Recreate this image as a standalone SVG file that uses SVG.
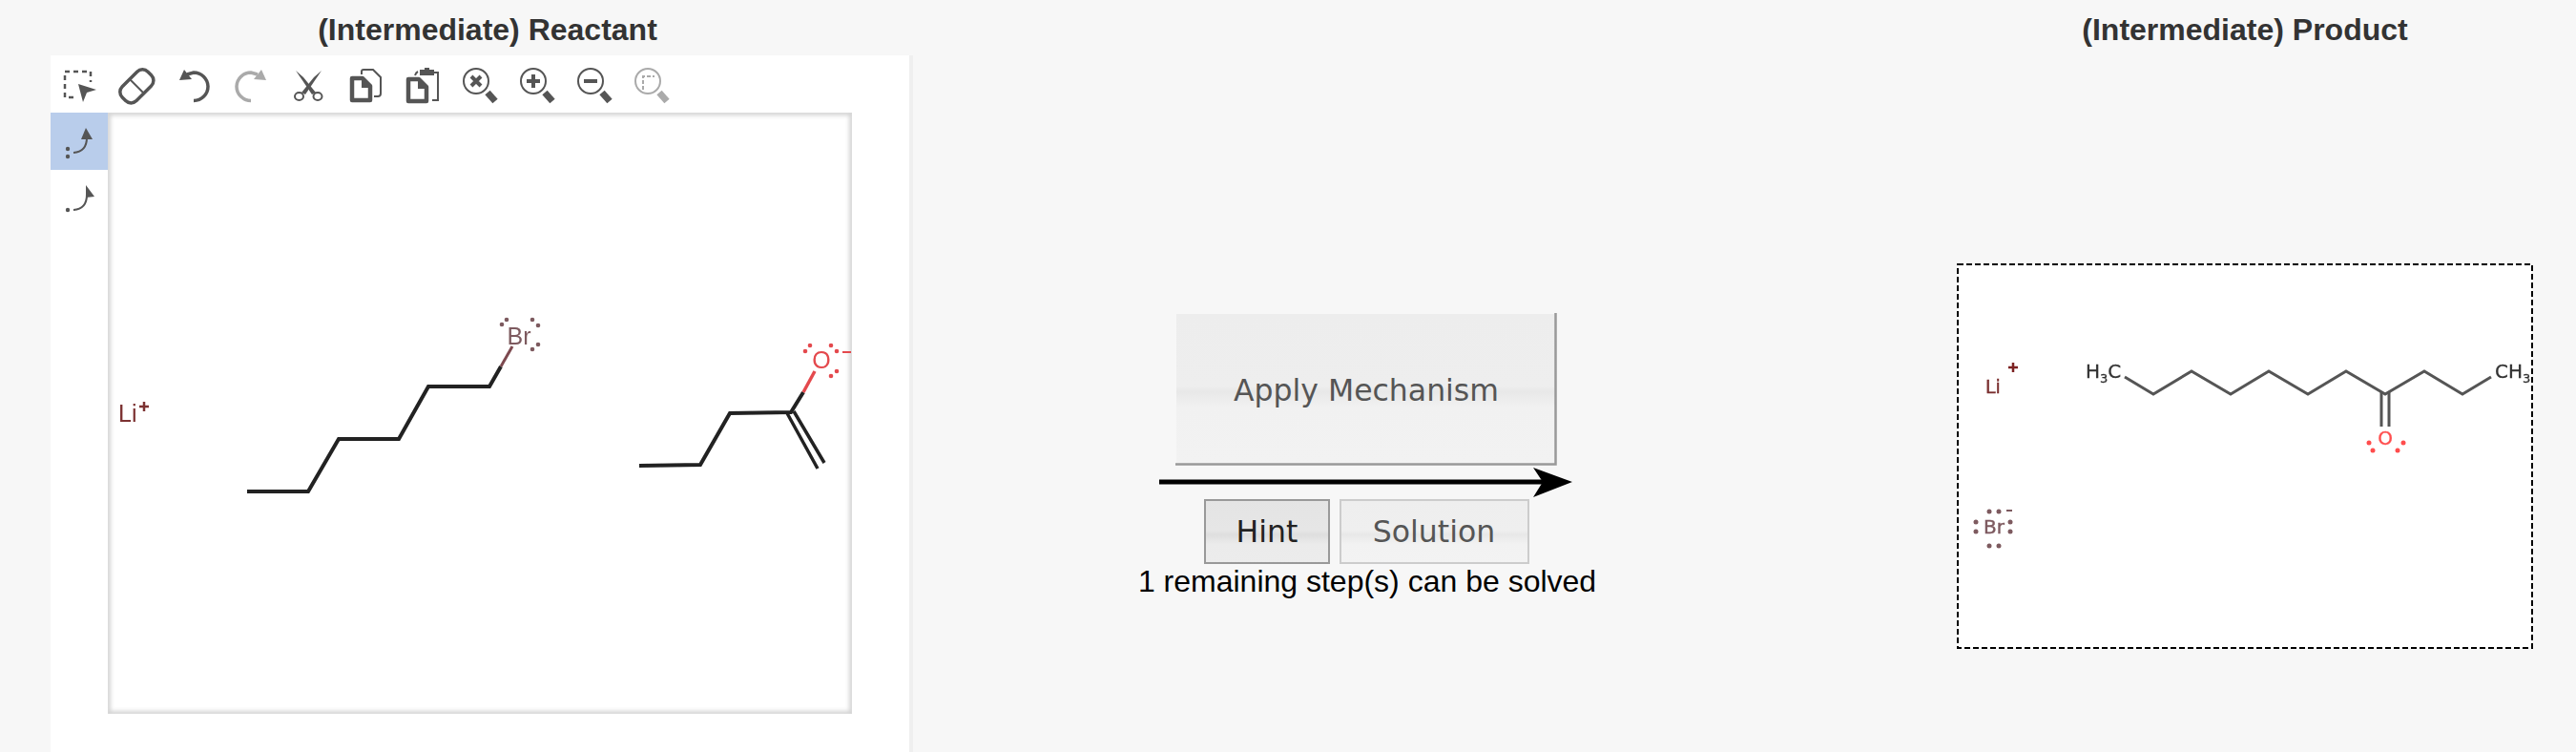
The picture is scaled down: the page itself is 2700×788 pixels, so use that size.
<svg xmlns="http://www.w3.org/2000/svg" width="2700" height="788" viewBox="0 0 2700 788">
<style>
.sans{font-family:"Liberation Sans",Arial,sans-serif}
.dj{font-family:"DejaVu Sans",Verdana,sans-serif}
.title{font-size:32px;font-weight:bold;fill:#333;text-anchor:middle}
.btn{font-size:31.5px;text-anchor:middle;fill:#555}
.bond{fill:none;stroke:#222;stroke-width:4;stroke-linejoin:miter}
.pbond{fill:none;stroke:#555;stroke-width:3}
.ic{fill:none;stroke:#555;stroke-width:3.5}
.icf{fill:#555;stroke:none}
.gr{fill:none;stroke:#aaa;stroke-width:3.5}
.grf{fill:#aaa;stroke:none}
.br{fill:#7d5a5f}
.o{fill:#e4494d}
.po{fill:#ff4d4d}
.li{fill:#7b3030}
.ptx{fill:#333;font-size:20px}
</style>
<defs>
<filter id="soft" filterUnits="userSpaceOnUse" x="0" y="0" width="2700" height="788"><feGaussianBlur stdDeviation="0.5"/></filter>
<filter id="sh" filterUnits="userSpaceOnUse" x="0" y="0" width="2700" height="788"><feGaussianBlur stdDeviation="2.200"/></filter>
<clipPath id="canvasClip"><rect x="113" y="118" width="780" height="630"/></clipPath>
<linearGradient id="g1" x1="0" y1="0" x2="0" y2="1">
<stop offset="0" stop-color="#ededed"/><stop offset=".48" stop-color="#eeeeee"/><stop offset=".52" stop-color="#e8e8e8"/><stop offset=".62" stop-color="#f1f1f1"/><stop offset="1" stop-color="#f2f2f2"/>
</linearGradient>
<linearGradient id="g2" x1="0" y1="0" x2="0" y2="1">
<stop offset="0" stop-color="#e4e4e4"/><stop offset=".48" stop-color="#e6e6e6"/><stop offset=".55" stop-color="#dedede"/><stop offset=".7" stop-color="#ebebeb"/><stop offset="1" stop-color="#ececec"/>
</linearGradient>
<linearGradient id="g3" x1="0" y1="0" x2="0" y2="1">
<stop offset="0" stop-color="#eeeeee"/><stop offset=".48" stop-color="#efefef"/><stop offset=".55" stop-color="#e8e8e8"/><stop offset=".7" stop-color="#f2f2f2"/><stop offset="1" stop-color="#f3f3f3"/>
</linearGradient>
</defs>
<rect width="2700" height="788" fill="#f7f7f7"/>
<g id="title-reactant"><text class="sans title" x="511" y="42">(Intermediate) Reactant</text></g>
<g id="title-product"><text class="sans title" x="2353" y="42">(Intermediate) Product</text></g>

<g id="editor-panel">
<rect x="953" y="58" width="4" height="730" fill="#efefef"/>
<rect x="53" y="58" width="900" height="730" fill="#fff"/>
<g clip-path="url(#canvasClip)"><rect x="113" y="118" width="780" height="630" fill="none" stroke="#d4d4d4" stroke-width="6" filter="url(#sh)"/></g>
<rect x="53" y="118" width="60" height="60" fill="#b9cdeb"/>
</g>

<g id="toolbar" filter="url(#soft)">
<g id="tool-select"><rect x="68" y="75" width="27" height="27" fill="none" stroke="#555" stroke-width="2.500" stroke-dasharray="5 4"/><rect x="80" y="86" width="23" height="23" fill="#fff"/><polygon class="icf" points="82,88 101,94 91,97 87,107"/></g>
<g id="tool-erase"><rect x="124" y="80" width="38" height="21" rx="8" transform="rotate(-45 143 90)" class="ic"/><line x1="136" y1="83" x2="150" y2="97" stroke="#555" stroke-width="2"/></g>
<g id="tool-undo"><path class="ic" d="M203 105.500A15 15 0 0 0 218 90.500A15 15 0 0 0 203 76L196 78"/><polygon class="icf" points="188,84 193,73 201,83"/></g>
<g id="tool-redo"><path class="gr" d="M263 105.500A15 15 0 0 1 248 90.500A15 15 0 0 1 263 76L270 78"/><polygon class="grf" points="279,84 274,73 266,83"/></g>
<g id="tool-cut"><polygon class="icf" points="310,74 318,81 331,97 327,99"/><polygon class="icf" points="337,74 329,81 316,97 320,99"/><ellipse cx="313.500" cy="101" rx="4.500" ry="4" fill="none" stroke="#555" stroke-width="2"/><ellipse cx="333" cy="101" rx="4.500" ry="4" fill="none" stroke="#555" stroke-width="2"/></g>
<g id="tool-copy"><path fill="none" stroke="#555" stroke-width="2" d="M379 78V75Q379 73 381 73H391L399 81V98Q399 101 396 101H392"/><path fill="#fff" stroke="#555" stroke-width="4.500" stroke-linejoin="round" d="M369 82H380L388 90V105H369Z"/><path fill="#555" d="M379 82V92H388Z"/></g>
<g id="tool-paste"><path fill="none" stroke="#555" stroke-width="2" d="M453 76H459V105H453"/><path fill="none" stroke="#555" stroke-width="2" d="M435 79Q436 76 438 75"/><rect class="icf" x="440" y="73" width="15" height="6"/><rect class="icf" x="445" y="71" width="5" height="3"/><path fill="#fff" stroke="#555" stroke-width="4.500" stroke-linejoin="round" d="M428 83H439L447 91V106H428Z"/><path fill="#555" d="M438 83V93H447Z"/></g>
<g id="tool-zoom-clear"><circle class="ic" style="stroke-width:2" cx="499" cy="85" r="13"/><path d="M494 80L504 90M504 80L494 90" stroke="#555" stroke-width="4" fill="none"/><line x1="511" y1="97" x2="519" y2="106" stroke="#555" stroke-width="7"/></g>
<g id="tool-zoom-in"><circle class="ic" style="stroke-width:2" cx="559" cy="85" r="13"/><path d="M559 78V92M552 85H566" stroke="#555" stroke-width="4" fill="none"/><line x1="571" y1="97" x2="579" y2="106" stroke="#555" stroke-width="7"/></g>
<g id="tool-zoom-out"><circle class="ic" style="stroke-width:2" cx="619" cy="85" r="13"/><path d="M612 85H626" stroke="#555" stroke-width="4" fill="none"/><line x1="631" y1="97" x2="639" y2="106" stroke="#555" stroke-width="7"/></g>
<g id="tool-zoom-fit"><circle class="gr" style="stroke-width:2" cx="679" cy="85" r="13"/><path d="M674 94V80H686" fill="none" stroke="#aaa" stroke-width="2" stroke-dasharray="4 2"/><line x1="691" y1="97" x2="699" y2="106" stroke="#aaa" stroke-width="7"/></g>
<g id="tool-arrow-pair"><circle class="icf" cx="71" cy="156" r="2.200"/><circle class="icf" cx="71" cy="164" r="2.200"/><path fill="none" stroke="#555" stroke-width="2" d="M77 160Q91 159 91 144"/><polygon class="icf" points="90,134 97,146 85,146"/></g>
<g id="tool-arrow-single"><circle class="icf" cx="71" cy="220" r="2.200"/><path fill="none" stroke="#555" stroke-width="2" d="M77 220Q91 219 91 204"/><polygon class="icf" points="90,194 99,206 90,207"/></g>
</g>

<g id="reactant-li" filter="url(#soft)">
<text class="sans li" x="124" y="442" font-size="25">Li</text>
<path d="M146 426H156M151 421V431" stroke="#7b3030" stroke-width="2.500" fill="none"/>
</g>
<g id="reactant-bromide" filter="url(#soft)">
<polyline class="bond" points="259,515 323,515 355,460 418,460 449,405 513,405 525,384"/>
<line x1="525" y1="384" x2="537" y2="363" stroke="#7d4a4f" stroke-width="3"/>
<text class="sans br" x="544" y="361" font-size="25" text-anchor="middle">Br</text>
<g class="br"><circle cx="526" cy="340" r="2.300"/><circle cx="531" cy="335" r="2.300"/><circle cx="558" cy="335" r="2.300"/><circle cx="564" cy="341" r="2.300"/><circle cx="558" cy="366" r="2.300"/><circle cx="564" cy="361" r="2.300"/></g>
</g>
<g id="reactant-enolate" filter="url(#soft)">
<polyline class="bond" points="670,488 734,487 765,433 829,432 842,411"/>
<line x1="842" y1="411" x2="854" y2="389" stroke="#e4494d" stroke-width="3.500"/>
<path class="bond" style="stroke-width:3.500" d="M825 433L857 491M832 431L864 485"/>
<text class="sans o" x="861" y="386" font-size="25" text-anchor="middle">O</text>
<g class="o"><circle cx="844" cy="368" r="2.300"/><circle cx="849" cy="362" r="2.300"/><circle cx="871" cy="362" r="2.300"/><circle cx="877" cy="368" r="2.300"/><circle cx="871" cy="394" r="2.300"/><circle cx="877" cy="389" r="2.300"/></g>
<line x1="883" y1="369" x2="892" y2="369" stroke="#e4494d" stroke-width="2"/>
</g>

<g id="btn-apply">
<rect x="1233" y="329" width="398" height="157" fill="url(#g1)"/>
<path d="M1630.500 328V486.500H1232" fill="none" stroke="#999" stroke-width="2.500"/>
<text class="dj btn" x="1432" y="420">Apply Mechanism</text>
</g>
<g id="connectors">
<line x1="1215" y1="505" x2="1620" y2="505" stroke="#000" stroke-width="5" filter="url(#soft)"/>
<polygon points="1648,505 1607,490 1617,505 1607,521" fill="#000" filter="url(#soft)"/>
</g>
<g id="btn-hint">
<rect x="1263" y="524" width="130" height="66" fill="url(#g2)" stroke="#999" stroke-width="2"/>
<text class="dj btn" x="1328" y="568" style="fill:#222">Hint</text>
</g>
<g id="btn-solution">
<rect x="1405" y="524" width="197" height="66" fill="url(#g3)" stroke="#ccc" stroke-width="2"/>
<text class="dj btn" x="1503" y="568">Solution</text>
</g>
<g id="status"><text class="sans" x="1433" y="620" font-size="32" fill="#000" text-anchor="middle">1 remaining step(s) can be solved</text></g>

<g id="product-box"><rect x="2052" y="277" width="602" height="402" fill="#fff" stroke="#000" stroke-width="2" stroke-dasharray="6 3"/></g>
<g id="product-li" filter="url(#soft)">
<text class="dj li" x="2081" y="412" font-size="19" stroke="#7b3030" stroke-width=".4">Li</text>
<path d="M2105 385H2115M2110 380V390" stroke="#7b2020" stroke-width="2.500" fill="none"/>
</g>
<g id="product-br" filter="url(#soft)">
<text class="dj br" x="2079" y="559" font-size="20" stroke="#7d5a5f" stroke-width=".4">Br</text>
<g class="br"><circle cx="2085" cy="536" r="2.500"/><circle cx="2095" cy="536" r="2.500"/><circle cx="2071" cy="547" r="2.500"/><circle cx="2071" cy="557" r="2.500"/><circle cx="2107" cy="547" r="2.500"/><circle cx="2107" cy="557" r="2.500"/><circle cx="2085" cy="572" r="2.500"/><circle cx="2095" cy="572" r="2.500"/></g>
<line x1="2103" y1="535" x2="2109" y2="535" stroke="#7d5a5f" stroke-width="2"/>
</g>
<g id="product-ketone" filter="url(#soft)">
<polyline class="pbond" points="2227,395 2257,413 2297,389 2338,413 2378,389 2419,413 2459,389 2500,413 2541,389 2581,413 2611,395"/>
<path class="pbond" d="M2496 411V447M2504 411V447"/>
<text class="dj ptx" x="2186" y="396" stroke="#333" stroke-width=".3">H<tspan font-size="13" dy="5">3</tspan><tspan dy="-5">C</tspan></text>
<text class="dj ptx" x="2615" y="396" stroke="#333" stroke-width=".3">CH<tspan font-size="13" dy="5">3</tspan></text>
<text class="dj po" x="2500" y="466" font-size="20" text-anchor="middle" stroke="#ff4d4d" stroke-width=".3">O</text>
<g class="po"><circle cx="2483" cy="464" r="2.500"/><circle cx="2487" cy="472" r="2.500"/><circle cx="2513" cy="472" r="2.500"/><circle cx="2519" cy="464" r="2.500"/></g>
</g>
</svg>
